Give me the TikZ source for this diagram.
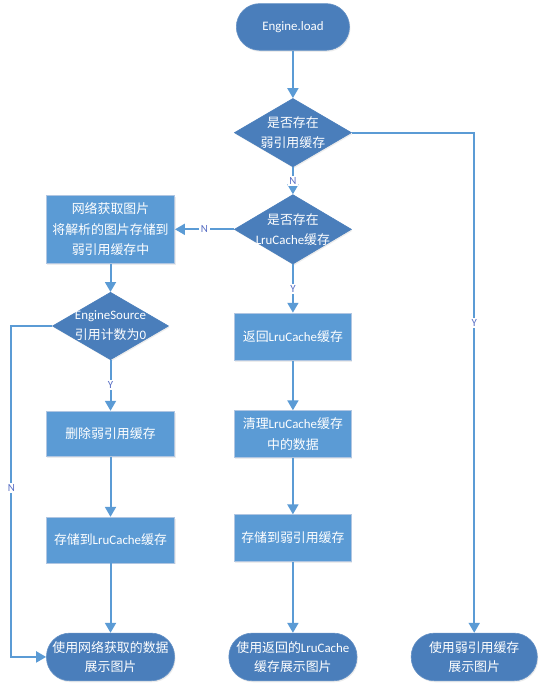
\documentclass[tikz,border=0pt]{standalone}
\usepackage{fontspec}
\setmainfont{Noto Sans CJK SC}
\newfontfamily\latinfont{Carlito}
\newcommand{\en}[1]{{\latinfont #1}}
\usepackage{tikz}
\usetikzlibrary{
  arrows.meta,
  shapes.geometric,
  chains,
  matrix,
  positioning,
  scopes,
  shadows,
  calc
}
\definecolor{flowdark}{RGB}{74,126,187}
\definecolor{flowlight}{RGB}{91,155,213}
\definecolor{flowedge}{RGB}{176,198,226}
\definecolor{flowline}{RGB}{91,155,213}
\definecolor{flowtag}{RGB}{88,110,196}

\begin{document}
\begin{tikzpicture}[
      process/.style={
         rectangle,
         minimum width=129pt,
         minimum height=46pt,
         inner sep=0pt,
         draw=flowedge,line width=0.8pt,
         fill=flowlight,
         text=white,align=center,
         font=\fontsize{13}{20.5}\selectfont,
         drop shadow={shadow xshift=1pt,shadow yshift=-1.5pt,opacity=0.15}
      },
      decision/.style={
         diamond,
         minimum width=118pt,
         minimum height=69pt,
         inner sep=0pt,
         draw=flowdark,line width=0.6pt,
         fill=flowdark,
         drop shadow={shadow xshift=1pt,shadow yshift=-1.5pt,opacity=0.15}
      },
      dtext/.style={
         text=white,align=center,inner sep=0pt,
         font=\fontsize{13}{20}\selectfont
      },
      terminal/.style={
         rectangle,
         rounded corners=23.5pt,
         minimum width=129pt,
         minimum height=48pt,
         inner sep=0pt,
         draw=flowdark!85!white,line width=0.6pt,
         fill=flowdark,
         text=white,align=center,
         font=\fontsize{13}{19}\selectfont,
         drop shadow={shadow xshift=1pt,shadow yshift=-1.5pt,opacity=0.15}
      },
      tag/.style={
         fill=white,text=flowtag,inner sep=1.5pt,
         font=\fontsize{11}{11}\selectfont
      },
      hv path/.style={to path={-| (\tikztotarget) \tikztonodes}},
      left loop/.style={to path={-- ++(#1,0) |- (\tikztotarget) \tikztonodes}},
      line/.style={draw=flowline,line width=2pt},
      >={Triangle[width=11pt,length=10pt]},
      tip/.style={->},every join/.style={line}
    ]
    \matrix[column sep=54pt, row sep=0pt] {
 & \node (n12) [terminal, minimum width=114pt, minimum height=47pt] {\en{Engine.load}}; & \\[48pt]
 & \node (n22) [decision, label={[dtext]center:{是否存在\\弱引用缓存}}] {}; & \\[27.5pt]
\node (n31) [process, minimum height=69pt] {网络获取图片\\将解析的图片存储到\\弱引用缓存中}; & \node (n32) [decision, minimum height=70pt, label={[dtext]center:{是否存在\\\en{LruCache}缓存}}] {}; & \\[28pt]
\node (n41) [decision, minimum width=117pt, minimum height=68pt, label={[dtext]center:{\en{EngineSource}\\引用计数为\en{0}}}] {}; & \node (n42) [process, minimum width=118pt, minimum height=48pt, yshift=-11pt] {返回\en{LruCache}缓存}; & \\[49.5pt]
\node (n51) [process] {删除弱引用缓存}; & \node (n52) [process, minimum width=118pt, minimum height=47pt] {清理\en{LruCache}缓存\\中的数据}; & \\[57pt]
\node (n61) [process] {存储到\en{LruCache}缓存}; & \node (n62) [process, minimum width=118pt, minimum height=47pt, yshift=2pt] {存储到弱引用缓存}; & \\[70pt]
\node (n71) [terminal] {使用网络获取的数据\\展示图片}; & \node (n72) [terminal] {使用返回的\en{LruCache}\\缓存展示图片}; & \node (n73) [terminal, minimum width=127pt] {使用弱引用缓存\\展示图片};\\
    };
  { [start chain]
       \chainin (n12);
       \chainin (n22)    [join=by tip];
  }
  { [start chain]
       \chainin (n31);
       \chainin (n41)    [join=by tip];
  }
  { [start chain]
       \chainin (n51);
       \chainin (n61)    [join=by tip];
       \chainin (n71)    [join=by tip];
  }
  { [start chain]
       \chainin (n42);
       \chainin (n52)    [join=by tip];
       \chainin (n62)    [join=by tip];
       \chainin (n72)    [join=by tip];
  }
  \draw [line,tip] (n22) -- node [tag] {\en{N}} (n32);
  \draw [line,tip] (n32) -- node [tag] {\en{N}} (n31);
  \draw [line,tip] (n32) -- node [tag] {\en{Y}} (n42);
  \draw [line,tip] (n41) -- node [tag] {\en{Y}} (n51);
  \draw [line,tip] (n22.east) to [hv path] node [tag, pos=0.69] {\en{Y}} (n73.north);
  \draw [line,tip] (n41.west) to [left loop=-41pt] node [tag, pos=0.245] {\en{N}} (n71.west);
  \path [use as bounding box] let \p1=(n71.west), \p2=(n12.north), \p3=(n73.east), \p4=(n71.south) in
       (\x1-46.5pt,\y2+2.5pt) rectangle (\x3+8.5pt,\y4-10pt);
\end{tikzpicture}
\end{document}
